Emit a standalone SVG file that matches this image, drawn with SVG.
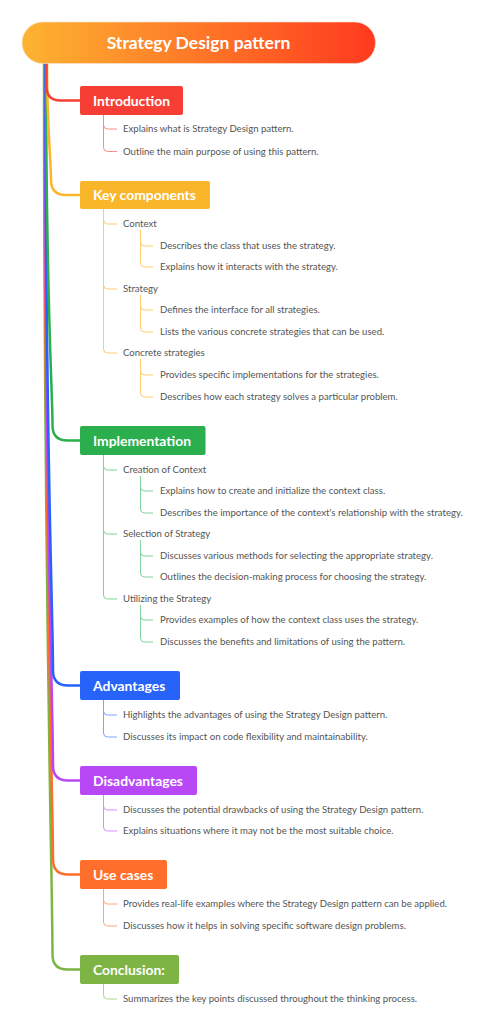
<svg xmlns="http://www.w3.org/2000/svg" width="486" height="1024" viewBox="0 0 486 1024">
<defs>
<linearGradient id="rootGrad" x1="0" y1="0" x2="1" y2="0">
<stop offset="0" stop-color="#FDB431"/>
<stop offset="1" stop-color="#FF3A1E"/>
</linearGradient>
<style>
.title{font-family:Lato,"Liberation Sans",sans-serif;font-weight:bold;fill:#fff;}
.t1{font-size:13.9px;}
.txt{font-family:Lato,"Liberation Sans",sans-serif;font-size:9.6px;fill:#555;}
.br{fill:none;stroke-width:2.5;stroke-linecap:round;}
.sub{fill:none;stroke-width:1;}
</style>
</defs>
<rect width="486" height="1024" fill="#fff"/>
<g id="connectors">
<path class="br" stroke="#7DB443" d="M44 60 C44 600 52.5 880 52.5 954.5 Q52.5 969.5 67.5 969.5 H80"/>
<path class="br" stroke="#FF6E2B" d="M44.5 60 C44.5 560 53 800 53 859.5 Q53 874.5 68 874.5 H80"/>
<path class="br" stroke="#B848F6" d="M45 60 C45 520 53 700 53 765.5 Q53 780.5 68 780.5 H80"/>
<path class="br" stroke="#2762F9" d="M45.5 60 C45.5 450 53 610 53 670.5 Q53 685.5 68 685.5 H80"/>
<path class="br" stroke="#2AAE4E" d="M46 60 C46 300 52.5 390 52.5 425.5 Q52.5 440.5 67.5 440.5 H80"/>
<path class="br" stroke="#F9B62B" d="M47 60 C47 130 51 160 51 180 Q51 195 66 195 H80"/>
<path class="br" stroke="#F63E34" stroke-width="3.5" d="M46.5 60 V86.5 Q46.5 100.5 60.5 100.5 H80"/>
<path class="sub" stroke="#F98B84" d="M103.5 115 V125 Q103.5 129 107.5 129 H117 M103.5 115 V147.5 Q103.5 151.5 107.5 151.5 H117"/>
<path class="sub" stroke="#FBCF6E" d="M103.5 209 V220 Q103.5 224 107.5 224 H117 M103.5 209 V285 Q103.5 289 107.5 289 H117 M103.5 209 V349 Q103.5 353 107.5 353 H117 M140.5 230 V242 Q140.5 246 144.5 246 H153 M140.5 230 V263 Q140.5 267 144.5 267 H153 M140.5 295 V306 Q140.5 310 144.5 310 H153 M140.5 295 V328 Q140.5 332 144.5 332 H153 M140.5 359 V371 Q140.5 375 144.5 375 H153 M140.5 359 V393 Q140.5 397 144.5 397 H153"/>
<path class="sub" stroke="#7FD39A" d="M103.5 455 V466 Q103.5 470 107.5 470 H117 M103.5 455 V530 Q103.5 534 107.5 534 H117 M103.5 455 V595 Q103.5 599 107.5 599 H117 M140.5 476 V487 Q140.5 491 144.5 491 H153 M140.5 476 V509 Q140.5 513 144.5 513 H153 M140.5 540 V552 Q140.5 556 144.5 556 H153 M140.5 540 V573 Q140.5 577 144.5 577 H153 M140.5 605 V616 Q140.5 620 144.5 620 H153 M140.5 605 V638 Q140.5 642 144.5 642 H153"/>
<path class="sub" stroke="#7FA3FB" d="M103.5 700 V711 Q103.5 715 107.5 715 H117 M103.5 700 V733 Q103.5 737 107.5 737 H117"/>
<path class="sub" stroke="#D98EFA" d="M103.5 795 V806 Q103.5 810 107.5 810 H117 M103.5 795 V827 Q103.5 831 107.5 831 H117"/>
<path class="sub" stroke="#FFA577" d="M103.5 889 V900 Q103.5 904 107.5 904 H117 M103.5 889 V922 Q103.5 926 107.5 926 H117"/>
<path class="sub" stroke="#B0D48A" d="M103.5 984 V995 Q103.5 999 107.5 999 H117"/>
</g>
<g id="root">
<rect x="22" y="22" width="353.5" height="41.5" rx="20.75" fill="url(#rootGrad)" stroke="#f4e6d8" stroke-width="0.6"/>
<text class="title" x="198.5" y="49.3" font-size="17.5" text-anchor="middle">Strategy Design pattern</text>
</g>
<g id="introduction">
<rect x="80" y="86" width="103" height="29" rx="2" fill="#F63E34"/>
<text class="title t1" x="93" y="105.5">Introduction</text>
<text class="txt" x="123" y="132.3">Explains what is Strategy Design pattern.</text>
<text class="txt" x="123" y="154.8">Outline the main purpose of using this pattern.</text>
</g>
<g id="key-components">
<rect x="80" y="181" width="130" height="28" rx="2" fill="#F9B62B"/>
<text class="title t1" x="93" y="200">Key components</text>
<g id="context">
<text class="txt" x="123" y="227.3">Context</text>
<text class="txt" x="160" y="249.3">Describes the class that uses the strategy.</text>
<text class="txt" x="160" y="270.3">Explains how it interacts with the strategy.</text>
</g>
<g id="strategy">
<text class="txt" x="123" y="292.3">Strategy</text>
<text class="txt" x="160" y="313.3">Defines the interface for all strategies.</text>
<text class="txt" x="160" y="335.3">Lists the various concrete strategies that can be used.</text>
</g>
<g id="concrete-strategies">
<text class="txt" x="123" y="356.3">Concrete strategies</text>
<text class="txt" x="160" y="378.3">Provides specific implementations for the strategies.</text>
<text class="txt" x="160" y="400.3">Describes how each strategy solves a particular problem.</text>
</g>
</g>
<g id="implementation">
<rect x="80" y="426" width="125.5" height="29" rx="2" fill="#2AAE4E"/>
<text class="title t1" x="93" y="445.5">Implementation</text>
<g id="creation-of-context">
<text class="txt" x="123" y="473.3">Creation of Context</text>
<text class="txt" x="160" y="494.3">Explains how to create and initialize the context class.</text>
<text class="txt" x="160" y="516.3">Describes the importance of the context's relationship with the strategy.</text>
</g>
<g id="selection-of-strategy">
<text class="txt" x="123" y="537.3">Selection of Strategy</text>
<text class="txt" x="160" y="559.3">Discusses various methods for selecting the appropriate strategy.</text>
<text class="txt" x="160" y="580.3">Outlines the decision-making process for choosing the strategy.</text>
</g>
<g id="utilizing-the-strategy">
<text class="txt" x="123" y="602.3">Utilizing the Strategy</text>
<text class="txt" x="160" y="623.3">Provides examples of how the context class uses the strategy.</text>
<text class="txt" x="160" y="645.3">Discusses the benefits and limitations of using the pattern.</text>
</g>
</g>
<g id="advantages">
<rect x="80" y="671" width="100" height="29" rx="2" fill="#2762F9"/>
<text class="title t1" x="93" y="690.5">Advantages</text>
<text class="txt" x="123" y="718.3">Highlights the advantages of using the Strategy Design pattern.</text>
<text class="txt" x="123" y="740.3">Discusses its impact on code flexibility and maintainability.</text>
</g>
<g id="disadvantages">
<rect x="80" y="766" width="117" height="29" rx="2" fill="#B848F6"/>
<text class="title t1" x="93" y="785.5">Disadvantages</text>
<text class="txt" x="123" y="813.3">Discusses the potential drawbacks of using the Strategy Design pattern.</text>
<text class="txt" x="123" y="834.3">Explains situations where it may not be the most suitable choice.</text>
</g>
<g id="use-cases">
<rect x="80" y="860" width="87" height="29" rx="2" fill="#FF6E2B"/>
<text class="title t1" x="93" y="879.5">Use cases</text>
<text class="txt" x="123" y="907.3">Provides real-life examples where the Strategy Design pattern can be applied.</text>
<text class="txt" x="123" y="929.3">Discusses how it helps in solving specific software design problems.</text>
</g>
<g id="conclusion">
<rect x="80" y="955" width="99" height="29" rx="2" fill="#7DB443"/>
<text class="title t1" x="93" y="974.5">Conclusion:</text>
<text class="txt" x="123" y="1002.3">Summarizes the key points discussed throughout the thinking process.</text>
</g>
</svg>
